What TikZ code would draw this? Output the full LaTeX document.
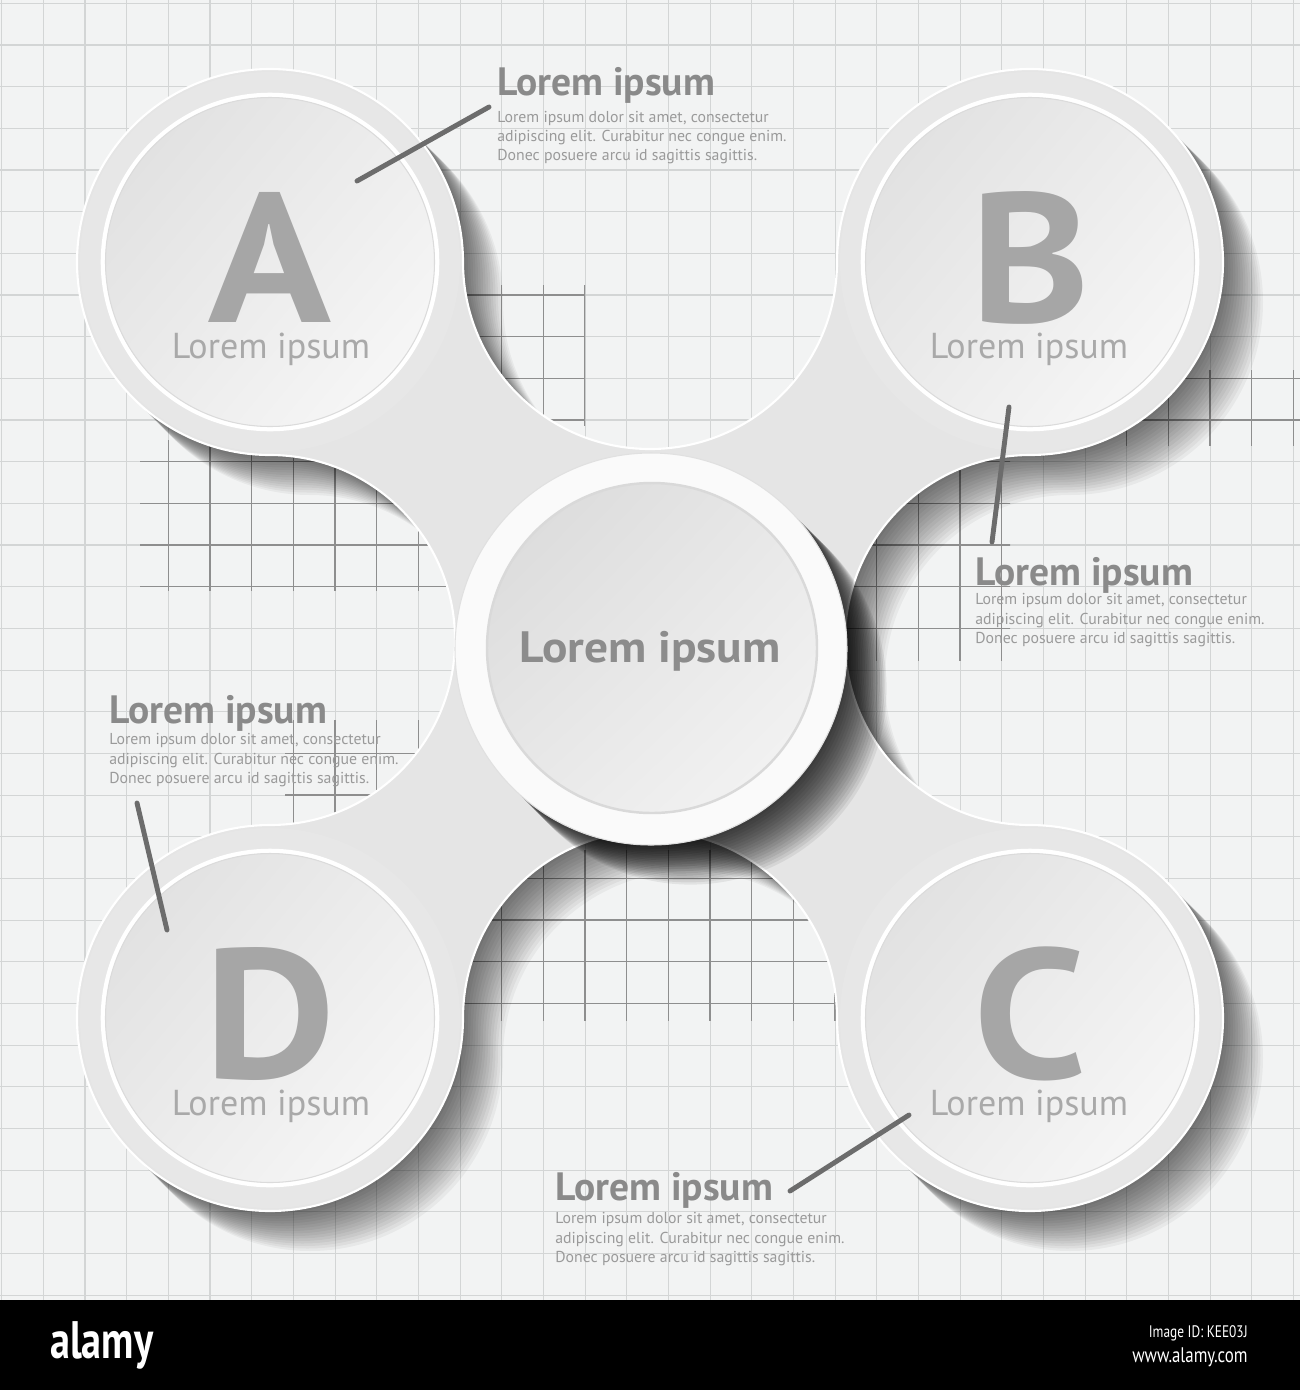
\documentclass[tikz,border=0pt]{standalone}
\usepackage{fontspec}
\setmainfont{PT Sans}
\usetikzlibrary{shadings}
\definecolor{bg}{HTML}{F2F3F3}
\definecolor{gridc}{HTML}{D3D5D5}
\definecolor{gridd}{HTML}{8E8E8E}
\definecolor{bodyc}{HTML}{E5E5E5}
\definecolor{ringc}{HTML}{E7E7E7}
\definecolor{headc}{HTML}{8A8A8A}
\definecolor{textc}{HTML}{9A9A9A}
\definecolor{letc}{HTML}{A6A6A6}
\definecolor{lblc}{HTML}{A9A9A9}
\definecolor{leadc}{HTML}{6C6C6C}
\newcommand\bodypath{(463,262) arc[start angle=0,end angle=-270,radius=193]
  arc[start angle=-90,end angle=90,radius=185]
  arc[start angle=-90,end angle=-360,radius=193]
  arc[start angle=180,end angle=360,radius=187]
  arc[start angle=180,end angle=-90,radius=193]
  arc[start angle=90,end angle=270,radius=185]
  arc[start angle=90,end angle=-180,radius=193]
  arc[start angle=0,end angle=180,radius=187] -- cycle}
\newcommand\mygrid[1]{%
  \foreach \k in {0,...,31}{
    \draw[#1] ({1.67+41.67*\k},0) -- ({1.67+41.67*\k},1300);
    \draw[#1] (0,{3.3+41.67*\k}) -- (1300,{3.3+41.67*\k});
  }}
\tikzset{
  gridline/.style={draw=gridc,line width=0.6pt},
  darkline/.style={draw=gridd,line width=0.7pt},
  head/.style={anchor=base west,text=headc,font=\fontsize{22.5}{24}\selectfont\bfseries,inner sep=0pt},
  txt/.style={anchor=base west,text=textc,font=\fontsize{9}{10}\selectfont,inner sep=0pt},
  bigl/.style={anchor=base,text=letc,font=\fontsize{105}{105}\selectfont\bfseries,inner sep=0pt},
  clbl/.style={anchor=base,text=lblc,font=\fontsize{20.5}{21}\selectfont,inner sep=0pt},
  leader/.style={draw=leadc,line width=2.8pt,line cap=round},
}
\begin{document}
\begin{tikzpicture}[x=0.02cm,y=-0.02cm]
\useasboundingbox (0,0) rectangle (1300,1390);
\fill[bg] (0,0) rectangle (1300,1300);
\mygrid{gridline}
% darker grid patches
\begin{scope}\clip (460,285) rectangle (585,425); \mygrid{darkline}\end{scope}
\begin{scope}\clip (140,440) rectangle (455,590); \mygrid{darkline}\end{scope}
\begin{scope}\clip (285,720) rectangle (460,830); \mygrid{darkline}\end{scope}
\begin{scope}\clip (460,850) rectangle (840,1020); \mygrid{darkline}\end{scope}
\begin{scope}\clip (840,430) rectangle (1010,660); \mygrid{darkline}\end{scope}
\begin{scope}\clip (1000,370) rectangle (1300,445); \mygrid{darkline}\end{scope}
% body shadow
\foreach \i in {1,...,16}{
  \fill[black,opacity=0.042,shift={({\i*2.5},{\i*2.5})}] \bodypath;
}
% body
\fill[bodyc] \bodypath;
\draw[white,line width=1.2pt] \bodypath;
% lobes
\foreach \n/\cx/\cy in {A/270/262,B/1030/262,C/1030/1018,D/270/1018}{
  \fill[ringc] (\cx,\cy) circle[radius=190];
  \shade[upper left=black!13,upper right=black!7,lower left=black!8,lower right=black!2]
    (\cx,\cy) circle[radius=166];
  \draw[white,line width=2.6pt] (\cx,\cy) circle[radius=167];
  \draw[black!14,line width=0.6pt] (\cx,\cy) circle[radius=164.5];
}
% center circle shadow
\foreach \i in {1,...,18}{
  \fill[black,opacity=0.065] ({651+\i*2.2},{649+\i*2.2}) circle[radius=196];
}
\fill[black!2] (651,649) circle[radius=196];
\draw[black!12,line width=0.6pt] (651,649) circle[radius=196];
\shade[upper left=black!15,upper right=black!9,lower left=black!9,lower right=black!4]
  (652,648) circle[radius=165];
\draw[black!15,line width=1.4pt] (652,648) circle[radius=165];
% letters and circle labels
\node[bigl] (la) at (270,322) {\scalebox{1.1}[1]{A}};
\node[bigl] (lb) at (1030,322) {\scalebox{1.1}[1]{B}};
\node[bigl] (lc) at (1030,1078) {\scalebox{1.1}[1]{C}};
\node[bigl] (ld) at (270,1078) {\scalebox{1.1}[1]{D}};
\node[clbl] (ta) at (271,358) {Lorem ipsum};
\node[clbl] (tb) at (1029,358) {Lorem ipsum};
\node[clbl] (tc) at (1029,1115) {Lorem ipsum};
\node[clbl] (td) at (271,1115) {Lorem ipsum};
\node[anchor=base,text=black!45,font=\fontsize{25}{26}\selectfont\bfseries,inner sep=0pt] (ctr) at (650,662) {\scalebox{1.08}[1]{Lorem ipsum}};
% text blocks
\node[head] (h1) at (497,95) {Lorem ipsum};
\node[txt] (h1a) at (497,122) {Lorem ipsum dolor sit amet, consectetur};
\node[txt] (h1b) at (497,141) {adipiscing elit. Curabitur nec congue enim.};
\node[txt] (h1c) at (497,160) {Donec posuere arcu id sagittis sagittis.};
\node[head] (h2) at (975,585) {Lorem ipsum};
\node[txt] (h2a) at (975,604) {Lorem ipsum dolor sit amet, consectetur};
\node[txt] (h2b) at (975,624) {adipiscing elit. Curabitur nec congue enim.};
\node[txt] (h2c) at (975,643) {Donec posuere arcu id sagittis sagittis.};
\node[head] (h3) at (109,723) {Lorem ipsum};
\node[txt] (h3a) at (109,744) {Lorem ipsum dolor sit amet, consectetur};
\node[txt] (h3b) at (109,764) {adipiscing elit. Curabitur nec congue enim.};
\node[txt] (h3c) at (109,783) {Donec posuere arcu id sagittis sagittis.};
\node[head] (h4) at (555,1200) {Lorem ipsum};
\node[txt] (h4a) at (555,1223) {Lorem ipsum dolor sit amet, consectetur};
\node[txt] (h4b) at (555,1243) {adipiscing elit. Curabitur nec congue enim.};
\node[txt] (h4c) at (555,1262) {Donec posuere arcu id sagittis sagittis.};
% leaders
\coordinate (a1) at (357,181); \coordinate (a2) at (489,107);
\coordinate (b1) at (1009,407); \coordinate (b2) at (992,542);
\coordinate (d1) at (137,803); \coordinate (d2) at (167,930);
\coordinate (c1) at (909,1115); \coordinate (c2) at (790,1191);
\draw[leader] (a1) -- (a2);
\draw[leader] (b1) -- (b2);
\draw[leader] (d1) -- (d2);
\draw[leader] (c1) -- (c2);
% bottom band
\fill[black] (0,1300) rectangle (1300,1390);
\node[anchor=base west,text=white,font=\fontsize{30}{30}\selectfont\bfseries,inner sep=0pt] (alamy) at (50,1358) {\scalebox{0.76}[1]{alamy}};
\node[anchor=base east,text=white,font=\fontsize{9.5}{10}\selectfont,inner sep=0pt] (iid) at (1248,1337) {\scalebox{0.8}[1]{Image ID: KEE03J}};
\node[anchor=base east,text=white,font=\fontsize{12}{12}\selectfont,inner sep=0pt] (www) at (1248,1362) {\scalebox{0.8}[1]{www.alamy.com}};
\end{tikzpicture}
\end{document}
